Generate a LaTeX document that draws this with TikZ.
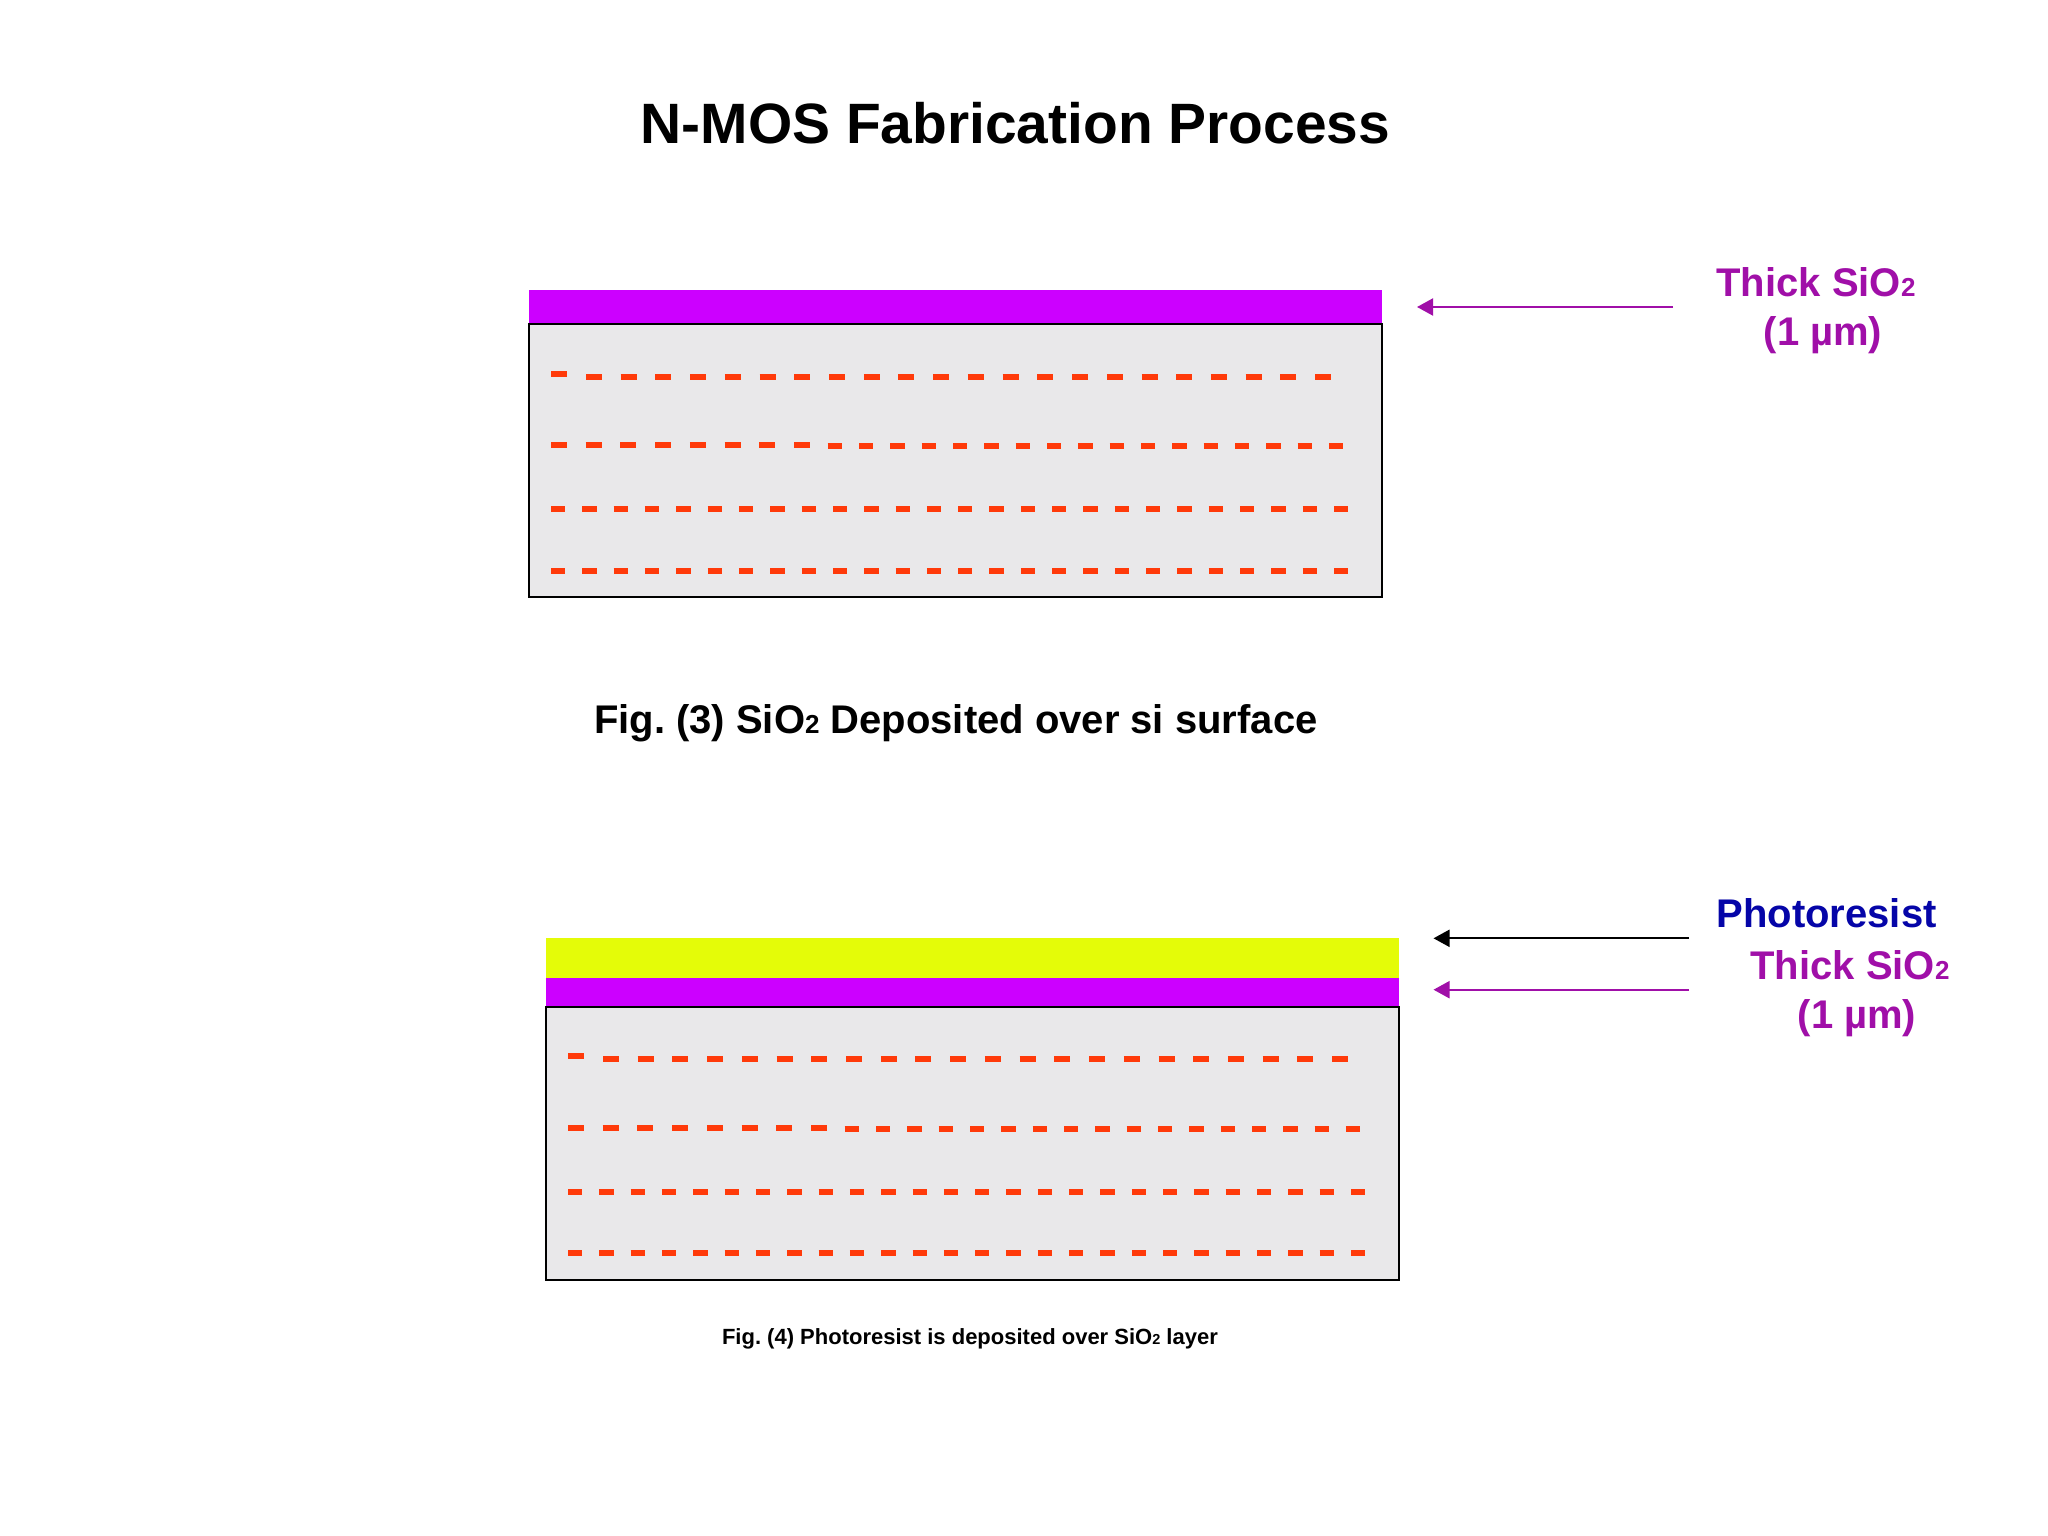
\documentclass[tikz,border=0pt]{standalone}
\usepackage{fontspec}
\setmainfont{Liberation Sans}
\frenchspacing
\usetikzlibrary{arrows.meta}
\definecolor{oxide}{HTML}{CC00FF}
\definecolor{resist}{HTML}{E4FC08}
\definecolor{wafer}{HTML}{E9E8EA}
\definecolor{dope}{HTML}{FF3A0A}
\definecolor{labelpurple}{HTML}{A00FA8}
\definecolor{labelblue}{HTML}{0505A8}
\newcommand{\dashrow}[5]{\foreach \k in {1,...,#5}{\draw[dopeline] ({#1+(\k-1)*#4},#2) -- ++(#3,0);}}
\newcommand{\waferdashes}{%
  \dashrow{551}{373.7}{16}{34.7}{1}
  \dashrow{586}{376.7}{16}{34.72}{22}
  \dashrow{551}{445}{16}{34.72}{8}
  \dashrow{827.7}{446.3}{14.3}{31.33}{17}
  \dashrow{551}{509.3}{14.3}{31.32}{26}
  \dashrow{551}{570.7}{14.3}{31.32}{26}
}
\newcommand{\sub}[2]{{\fontsize{#1}{#1}\selectfont #2}}
\tikzset{
  dopeline/.style={draw=dope,line width=6pt},
  waferbox/.style={draw=black,line width=2pt,fill=wafer},
  txt/.style={inner sep=0pt,outer sep=0pt,font=\bfseries},
  arrowline/.style={line width=2pt,-{Triangle[length=16pt,width=17pt]}},
}
\begin{document}
\begin{tikzpicture}[x=1pt,y=-1pt]
\useasboundingbox (0,0) rectangle (2048,1536);
\fill[white] (0,0) rectangle (2048,1536);
% Title
\node[txt,anchor=base,font=\bfseries\fontsize{56.9}{56.9}\selectfont] (title) at (1015.5,143) {N-MOS Fabrication Process};
% Figure 3
\fill[oxide] (529,290) rectangle (1382,323.5);
\draw[waferbox] (529,323.5) rectangle (1382,597);
\waferdashes
\coordinate (a1t) at (1673,307); \coordinate (a1h) at (1417,307);
\draw[arrowline,labelpurple] (a1t) -- (a1h);
\node[txt,anchor=base west,text=labelpurple,font=\bfseries\fontsize{40}{40}\selectfont] (l1) at (1716.5,296) {Thick SiO\sub{26}{2}};
\node[txt,anchor=base,text=labelpurple,font=\bfseries\fontsize{40}{40}\selectfont] (l2) at (1823,345) {(1 µm)};
\node[txt,anchor=base west,font=\bfseries\fontsize{40}{40}\selectfont] (c3) at (594,733.5) {Fig. (3) SiO\sub{26}{2} Deposited over si surface};
% Figure 4
\fill[resist] (546,938.3) rectangle (1399,977.7);
\fill[oxide] (546,977.7) rectangle (1399,1007);
\draw[waferbox] (546,1007) rectangle (1399,1280);
\begin{scope}[shift={(17,682.7)}]
\waferdashes
\end{scope}
\coordinate (a2t) at (1689,938.3); \coordinate (a2h) at (1433.5,938.3);
\draw[arrowline,black] (a2t) -- (a2h);
\coordinate (a3t) at (1689,989.7); \coordinate (a3h) at (1433.5,989.7);
\draw[arrowline,labelpurple] (a3t) -- (a3h);
\node[txt,anchor=base west,text=labelblue,font=\bfseries\fontsize{40}{40}\selectfont] (l3) at (1716.5,927) {Photoresist};
\node[txt,anchor=base west,text=labelpurple,font=\bfseries\fontsize{40}{40}\selectfont] (l4) at (1750.5,979) {Thick SiO\sub{26}{2}};
\node[txt,anchor=base,text=labelpurple,font=\bfseries\fontsize{40}{40}\selectfont] (l5) at (1857,1028) {(1 µm)};
\node[txt,anchor=base west,font=\bfseries\fontsize{22}{22}\selectfont] (c4) at (722,1344) {Fig. (4) Photoresist is deposited over SiO\sub{14.5}{2} layer};
\end{tikzpicture}
\end{document}
